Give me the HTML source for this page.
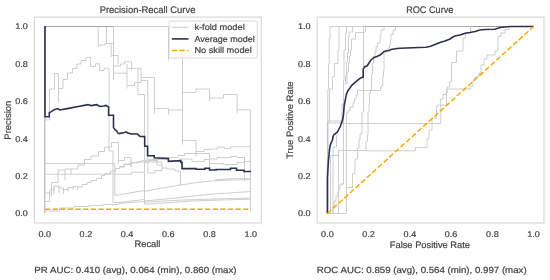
<!DOCTYPE html>
<html><head><meta charset="utf-8"><style>
html,body{margin:0;padding:0;background:#fff;}
svg{display:block;will-change:transform;}
text{text-rendering:geometricPrecision;font-family:"Liberation Sans",sans-serif;fill:#424242;stroke:#424242;stroke-width:0.2px;}
</style></head><body>
<svg width="550" height="280" viewBox="0 0 550 280">
<rect x="0" y="0" width="550" height="280" fill="#fff"/>
<!-- LEFT AXES -->
<g id="left">
<g fill="none" stroke="#c8c8c8" stroke-width="0.9" id="lgray">
<path d="M113.5,26.5 H168.5 V60.5"/>
<path d="M44.7,26.5 H113.5" stroke="#a8a8a8" stroke-width="1.1"/>
<path d="M98.2,26.5 V47"/>
<path d="M98.2,45 H105 V43.5 H113.5"/>
<path d="M106.5,26.5 V43.5"/>
<path d="M113.5,26.5 V79.5"/>
<path d="M111.2,43.5 V57 M111.2,55.5 H118 V66"/>
<path d="M113.3,66 H120.5 V64 H124.5 V61.8 H131.5 V70.5"/>
<path d="M127,64 V88.5"/>
<path d="M127.5,68.3 H141 V82.5"/>
<path d="M113.3,73.2 H127"/>
<path d="M49.5,119.8 V89 H54.5 V73.5 H58.5 V102"/>
<path d="M58.5,88.5 H63 V79.5 H67.5 V73 H72.5 V68.5 H77 V64 H81 V60.5 H86 V57.5 H90.5 V66.5 H95.5 V63.8 H99.5 V70.5 H104 V68.2 H109 V151 H113 V202.5 H118.5 L144,199.5"/>
<path d="M138,68.5 V94.5 H144.5 V204.3 L170,202.5 L193,201 L222,200 L250.5,199.2"/>
<path d="M141,77.5 H154.5 V113.5"/>
<path d="M141,80.5 H147.8 V173 H155 V170.5 H162 V168 H167 V169 H175 V171 H180.5 V185"/>
<path d="M144.5,162 H162 V168"/>
<path d="M157,158.5 V165 H162"/>
<path d="M127,85.5 H134.5 V82.5 H141"/>
<path d="M182.5,58.5 V144.5"/>
<path d="M182.5,92.5 H196 V89 H209.5 V101"/>
<path d="M154.5,108.5 H168.5 V114.5"/>
<path d="M168.5,110 H182.5"/>
<path d="M44.7,26.5 V213.5" stroke="#c2c2c2" stroke-width="1.5"/>
<path d="M44.7,119.8 H49.5"/>
<path d="M44.7,163.5 H114.8 V195.5 L144,190.5"/>
<path d="M84.5,164 V159.5 H91 V156 H98.5 V151.5 H104.5 V147 H111.5 V142.5 H118.5 V163.5"/>
<path d="M118.5,160.5 H124.5 V157.5 H131 V167"/>
<path d="M119,167 H124 V164 H130 V162.5 H134 L144,160.5"/>
<path d="M44.7,174.2 H131.5 V172.2 H145"/>
<path d="M131,163 V166.5"/>
<path d="M49.5,190.5 V201.5 H44.7"/>
<path d="M44.7,211 H59.5 V208 H74 V206.5 H89 V205.5 H103.5 V204.5 H118.5 V203.5 L144,201.5"/>
<path d="M209.5,98 H223.5 V94.5 H237 V113"/>
<path d="M237,109.8 H250.5 V211"/>
<path d="M144,191.5 L162,188 L180.5,185 L197,182.5 L215,180.7 L232,180 L250.5,179.7"/>
<path d="M215,179.7 L232,178.8 L250.5,178.5"/>
<path d="M144,201 L160,199.5 L176,198 L193,196 L214,194 L236,192.5 L250.5,191.5"/>
<path d="M144,202.3 L163,201 L182.5,200 L215,199 L250.5,198"/>
<path d="M58,182.5 V170 H65 V169 H78 V165 H84.5 V164"/>
<path d="M65,170 V180.5"/>
<path d="M71,169 V175"/>
<path d="M51.5,196.5 V182.5 H58"/>
<path d="M44.7,193 H51.5"/>
<path d="M49.5,190 H54 V186 H59 V188 H63.5 V189.5 H68 V187.5 H73 V186.5 H77.5 V187 H82 V184.5 H87 V182.5 H91 V180.5 H96.5 V178.5 H101.5 V175.5 H105 V173.5 H110.5 V171 H115.5 V168.5 H120 V166.5 H124.5 V164.5 H130 V163 H137.5 V162 H149 V160.5 H157 V158.5 L171,157.5"/>
<path d="M54,186 V194.5 M59,186 V193.5 M63.5,188 V194 M68,187.5 V191.5 M73,186.5 V189.5 M77.5,186.5 V190"/>
<path d="M171,157.5 H178 V155.5 H184.5 V153.5 H209.5 V170"/>
<path d="M182,140.5 H196 V156.5"/>
<path d="M196,151.5 H204 V149.5 H211 V149 H217.5 V147.2 H224.5 V148.5 H230.5 V146.7 H250.5"/>
<path d="M144,160.5 L152,159.5 H168"/>
<path d="M179,159 H192 V161.5 H204 V159.5 H209.5 V159 H217 V157.5 H230.5 V156.5 H237 V157.5 H244.5 V161.5 H250.5"/>
<path d="M209.5,163.5 H223.5 V164.5 H237 V162.5 H244 V161.5"/>
<path d="M244.5,157.5 V181"/>
</g>
<path id="lnavy" fill="none" stroke="#2d314d" stroke-width="1.6" stroke-linejoin="miter" d="M45,26 V116.8 H49.3 V112.7 L50.9,111.9 L54.2,109.7 L58,108.6 L59.6,110 L67.3,108.6 L78.2,106.5 L88,104.6 L91.3,105.6 L96.7,104.6 L99.9,106.5 L103.7,106 L105.9,105.4 L108.6,107 V115.2 H113.5 V127.6 L114.7,129.3 L116.4,130.9 L118,133.1 L119,133.6 L124.5,132.5 L126.2,131.8 L127.8,133.1 L131.6,134 L137.6,134 L138.7,135.3 L140.3,136.4 L144.7,136.6 V146.3 H147.6 V155.8 H154.2 V157.7 L168.4,158.5 V161.3 L180.9,160.7 V162.4 H182 V168.6 H196 V169.2 H205 V168.2 H209.5 V170 H216 V169.5 H230.5 V168.2 H236.5 V170.3 H244 V171.5 H251"/>
<line x1="44.7" y1="209.3" x2="250.7" y2="209.3" stroke="#ffa500" stroke-width="1.45" stroke-dasharray="5.3 2.32" stroke-dashoffset="-0.3"/>
<rect x="34.5" y="17.1" width="226.8" height="205.9" fill="none" stroke="#d4d4d4" stroke-width="1.1"/>
<!-- legend -->
<rect x="169.1" y="21" width="88.2" height="37.1" rx="2" ry="2" fill="#fff" fill-opacity="0.8" stroke="#cccccc" stroke-width="0.7"/>
<line x1="171.8" y1="27.3" x2="188.5" y2="27.3" stroke="#c8c8c8" stroke-width="0.9"/>
<line x1="171.8" y1="38.9" x2="188.5" y2="38.9" stroke="#2d314d" stroke-width="1.6"/>
<line x1="171.8" y1="50.5" x2="188.5" y2="50.5" stroke="#ffa500" stroke-width="1.45" stroke-dasharray="5.3 2.3"/>
<text x="194.4" y="30" font-size="8.6" textLength="50.3" lengthAdjust="spacingAndGlyphs">k-fold model</text>
<text x="194.4" y="41.6" font-size="8.6" textLength="60.4" lengthAdjust="spacingAndGlyphs">Average model</text>
<text x="194.4" y="53.2" font-size="8.6" textLength="57.3" lengthAdjust="spacingAndGlyphs">No skill model</text>
<!-- ticks -->
<g font-size="8.4" text-anchor="end">
<text x="27.9" y="29.4" textLength="12.6" lengthAdjust="spacingAndGlyphs">1.0</text>
<text x="27.9" y="66.8" textLength="12.6" lengthAdjust="spacingAndGlyphs">0.8</text>
<text x="27.9" y="104.2" textLength="12.6" lengthAdjust="spacingAndGlyphs">0.6</text>
<text x="27.9" y="141.6" textLength="12.6" lengthAdjust="spacingAndGlyphs">0.4</text>
<text x="27.9" y="179" textLength="12.6" lengthAdjust="spacingAndGlyphs">0.2</text>
<text x="27.9" y="216.4" textLength="12.6" lengthAdjust="spacingAndGlyphs">0.0</text>
</g>
<g font-size="8.4" text-anchor="middle">
<text x="44.7" y="236.5" textLength="12.6" lengthAdjust="spacingAndGlyphs">0.0</text>
<text x="85.9" y="236.5" textLength="12.6" lengthAdjust="spacingAndGlyphs">0.2</text>
<text x="127.1" y="236.5" textLength="12.6" lengthAdjust="spacingAndGlyphs">0.4</text>
<text x="168.3" y="236.5" textLength="12.6" lengthAdjust="spacingAndGlyphs">0.6</text>
<text x="209.5" y="236.5" textLength="12.6" lengthAdjust="spacingAndGlyphs">0.8</text>
<text x="250.7" y="236.5" textLength="12.6" lengthAdjust="spacingAndGlyphs">1.0</text>
</g>
<text x="147.55" y="12.8" font-size="9.6" text-anchor="middle" textLength="95.8" lengthAdjust="spacingAndGlyphs">Precision-Recall Curve</text>
<text x="147.5" y="247.4" font-size="9.3" text-anchor="middle" textLength="25.9" lengthAdjust="spacingAndGlyphs">Recall</text>
<text transform="translate(10.7,120.2) rotate(-90)" x="0" y="0" font-size="9.3" text-anchor="middle" textLength="38.9" lengthAdjust="spacingAndGlyphs">Precision</text>
<text x="34.32" y="272.9" font-size="8.9" textLength="202.3" lengthAdjust="spacingAndGlyphs">PR AUC: 0.410 (avg), 0.064 (min), 0.860 (max)</text>
</g>
<!-- RIGHT AXES -->
<g id="right">
<g fill="none" stroke="#c8c8c8" stroke-width="0.9" id="rgray">
<path d="M330,26.5 H364"/>
<path d="M364,26.5 H470" stroke="#b0b0b0" stroke-width="1.1"/>
<path d="M470,26.5 H533.6" stroke="#a0a0a0" stroke-width="1.2"/>
<path d="M330,26.5 V38 H329.2 V64 H328.5 V89.5 H327.8 V213.5"/>
<path d="M339,26.5 V50 H338 V63.5 H334.5 V76.5 H332.5 V89 H329.5 V122 H327.5"/>
<path d="M346.5,26.5 V33 H345.5 V50 H344 V81 H343.5 V104 H342 V124"/>
<path d="M352.5,26.5 V32 H349 V38.5 H348.5 V53 H347.5 V62 H346.5 V76 H345.5 V84 H344.5"/>
<path d="M364.5,32.5 H355.5 V39 H351.5 V50 H350.5 V56 H349.5 V63 H348.5 V72 H347 V84"/>
<path d="M365.5,26.5 V32.5"/>
<path d="M363.5,26.5 V112 H362 V133.5 H360 V140 H359 V148 H357.5 V159 H355.5 V160 H355 V173.5 H352.5 V187.5 H346"/>
<path d="M327.4,213.5 H346.5 V117 H346.5 V113 H348 V110.5 H350 V107 H353 V103 H354.5 V99 H356 V95 H357.5 V90.5 H380.5 V87 H381.5 V85.5 H382.8 V77 H383.5 V71 H384 V53 H386 V50 H388 V48 H389.5 V45 H390.5 V40 H391 V34.5 H393 V30 H395.5 V26.5"/>
<path d="M330.5,213.5 V160 L330.5,155.5 H338.5 V150.5 H366 V141.5 H367.5 V135 H368 V112 H369 V104 H369.5 V93 H370.5 V90 H371.5 V75 H372.5 V63 H373.5 V57 H375 V52 H376 V47 H377.5 V43 H380 V35 H381 V30 H384 V26.5"/>
<path d="M338.5,150.5 V213.5"/>
<path d="M336.5,135 V147 H333 V213.5"/>
<path d="M343.5,104 V184 H340.5"/>
<path d="M327.5,123 H342 L347,123.5 H440.8 V105 H446.5 V89 H470.8 V86 H473 V80 H475 V77 H477.5 V76 H479 V73 H481 V65 H484 V59 H487 V55 H495 V51 H498 V36.5 H501 V33 H505 V29.5 H509 V26.5"/>
<path d="M470.5,26.5 V33 H465.5 V38 H463 V51 H456.5 V62.5 H451.5 V81.6 H449.8 V87 H447.2 V93 H446 V94.5 H443 V99 H440.8 V105 H437.5 V106 H436.5 V118 H432 V130 H431 H429 V139 H427 V147.5 H415.5 V150.8 H366"/>
<path d="M343.5,183 V184 H341.5 V185 H340 V188.5 H339 V192 H338 V196 H336 V201 H334 V206 H333 V213.5"/>
<path d="M327.5,121 H341.5"/>
<path d="M327.6,122 V213.5" stroke="#c4c4c4" stroke-width="1.4"/>
</g>
<path id="rnavy" fill="none" stroke="#2d314d" stroke-width="1.6" d="M327.4,213.5 V178 L328,168 L328.5,160 L329,155 L329.5,150 L330,146 L331,143 L332.5,140 L333,136.5 L334,134.5 L336.5,133 L338,131 L339.5,128 L340.5,126 L341.5,123 L342.5,120 L343.3,116 L343.6,113 L343.9,109.3 L344.3,105 L345,101.4 L345.7,97.9 L346.4,94.3 L347.9,90.7 L350,87.9 L351.4,85.7 L353.6,83.6 L356.4,81.4 L358.6,79.3 L360.7,77.9 L363.2,77.1 V69 L365,66.5 L367,66 L369,63 L371,60 L374,57.5 L377,56.5 L380,55 L382,53.5 L384,51.5 L386,51 L389,50.5 L391,49.5 L394,49 L397,48.5 L400,48.2 L426,47.3 L428,46.8 L430,46.5 L435,44.5 L440,42.5 L445,41 L450,39 L452,37.5 L455,36 L460,35 L463,34 L466,33 L470,32.5 L475,31.5 L480,30 L485,29.5 L495,29.2 L497,28.5 L500,27.5 L505,27 L510,26.5 L533.6,26.5"/>
<line x1="327.4" y1="213.5" x2="533.6" y2="26.5" stroke="#ffa500" stroke-width="1.45" stroke-dasharray="5.3 2.3"/>
<rect x="317.1" y="17.1" width="226.9" height="205.9" fill="none" stroke="#d4d4d4" stroke-width="1.1"/>
<g font-size="8.4" text-anchor="end">
<text x="310.6" y="29.4" textLength="12.6" lengthAdjust="spacingAndGlyphs">1.0</text>
<text x="310.6" y="66.8" textLength="12.6" lengthAdjust="spacingAndGlyphs">0.8</text>
<text x="310.6" y="104.2" textLength="12.6" lengthAdjust="spacingAndGlyphs">0.6</text>
<text x="310.6" y="141.6" textLength="12.6" lengthAdjust="spacingAndGlyphs">0.4</text>
<text x="310.6" y="179" textLength="12.6" lengthAdjust="spacingAndGlyphs">0.2</text>
<text x="310.6" y="216.4" textLength="12.6" lengthAdjust="spacingAndGlyphs">0.0</text>
</g>
<g font-size="8.4" text-anchor="middle">
<text x="327.4" y="236.5" textLength="12.6" lengthAdjust="spacingAndGlyphs">0.0</text>
<text x="368.6" y="236.5" textLength="12.6" lengthAdjust="spacingAndGlyphs">0.2</text>
<text x="409.9" y="236.5" textLength="12.6" lengthAdjust="spacingAndGlyphs">0.4</text>
<text x="451.1" y="236.5" textLength="12.6" lengthAdjust="spacingAndGlyphs">0.6</text>
<text x="492.4" y="236.5" textLength="12.6" lengthAdjust="spacingAndGlyphs">0.8</text>
<text x="533.6" y="236.5" textLength="12.6" lengthAdjust="spacingAndGlyphs">1.0</text>
</g>
<text x="429.77" y="12.8" font-size="9.6" text-anchor="middle" textLength="47.2" lengthAdjust="spacingAndGlyphs">ROC Curve</text>
<text x="429.9" y="247.7" font-size="9.3" text-anchor="middle" textLength="80.3" lengthAdjust="spacingAndGlyphs">False Positive Rate</text>
<text transform="translate(293.2,120.14) rotate(-90)" x="0" y="0" font-size="9.3" text-anchor="middle" textLength="77.4" lengthAdjust="spacingAndGlyphs">True Positive Rate</text>
<text x="316.83" y="272.9" font-size="8.9" textLength="209.8" lengthAdjust="spacingAndGlyphs">ROC AUC: 0.859 (avg), 0.564 (min), 0.997 (max)</text>
</g>
</svg>
</body></html>
